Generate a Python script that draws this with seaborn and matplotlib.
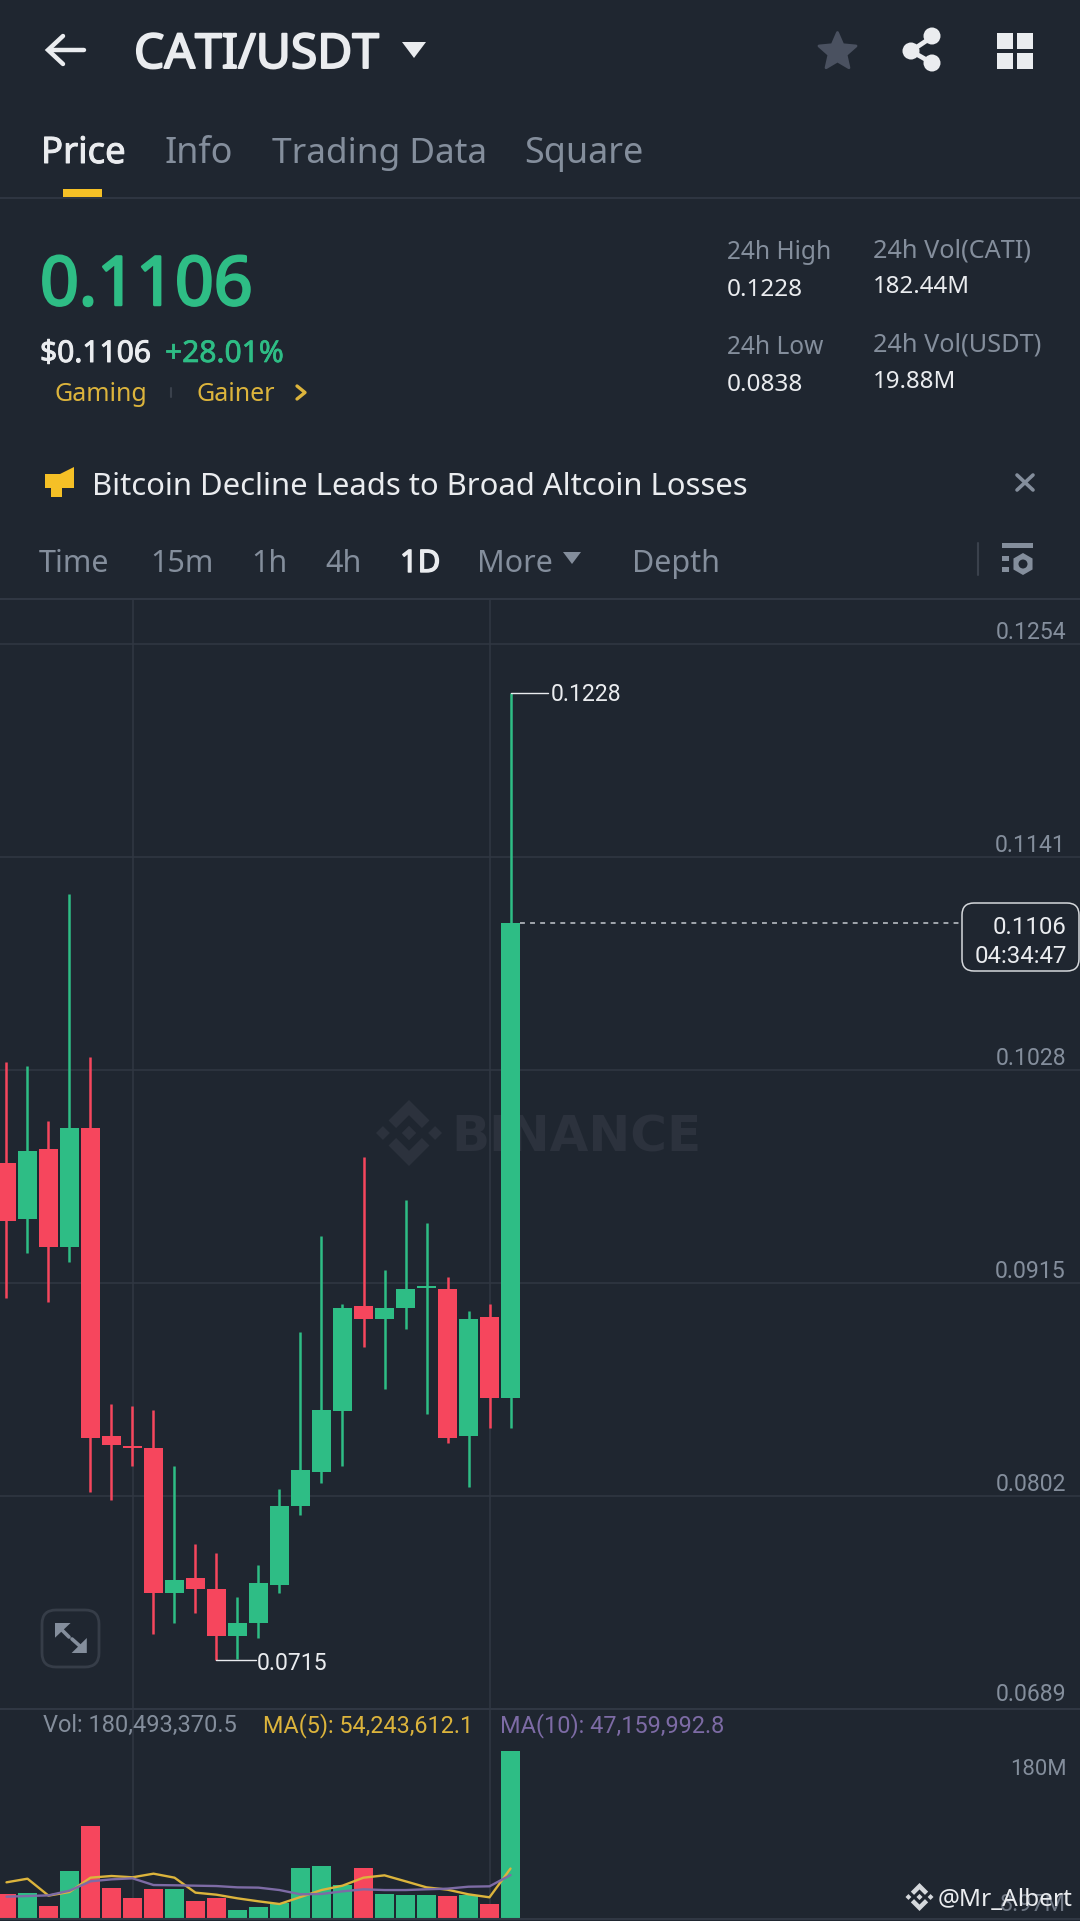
import numpy as np
import pandas as pd
import matplotlib
matplotlib.use('Agg')
import matplotlib.pyplot as plt
import matplotlib.patheffects as pe
from matplotlib.patches import Polygon, FancyBboxPatch, Rectangle, Circle
import seaborn as sns

# candles
opens = [0.09788, 0.09490, 0.09859, 0.09339, 0.09971, 0.08338, 0.08287, 0.08276, 0.07507, 0.07587, 0.07527, 0.07277, 0.07348,
         0.07548, 0.07967, 0.08147, 0.08469, 0.09028, 0.08959, 0.09019, 0.09122, 0.09118, 0.08340, 0.08970, 0.08540]
closes = [0.09481, 0.09850, 0.09339, 0.09971, 0.08329, 0.08289, 0.08276, 0.07507, 0.07576, 0.07527, 0.07277, 0.07346, 0.07557,
          0.07967, 0.08158, 0.08478, 0.09019, 0.08959, 0.09019, 0.09118, 0.09133, 0.08329, 0.08959, 0.08540, 0.11060]
highs = [0.10321, 0.10300, 0.10009, 0.11212, 0.10349, 0.08507, 0.08498, 0.08476, 0.08178, 0.07767, 0.07716, 0.07486, 0.07656,
         0.08057, 0.08889, 0.09399, 0.09039, 0.09819, 0.09219, 0.09590, 0.09468, 0.09180, 0.09000, 0.09039, 0.12280]
lows = [0.09069, 0.09311, 0.09049, 0.09260, 0.08040, 0.07999, 0.08178, 0.07288, 0.07348, 0.07398, 0.07150, 0.07157, 0.07268,
        0.07507, 0.07918, 0.08087, 0.08178, 0.08809, 0.08589, 0.08908, 0.08457, 0.08300, 0.08069, 0.08379, 0.08380]

# volume in millions
volumes = [26.5, 27.9, 13.6, 51.2, 100.3, 33.3, 22.6, 31.9, 32.6, 19.7, 22.9, 9.3, 12.9,
           16.8, 54.4, 56.9, 36.5, 54.8, 27.2, 25.4, 25.4, 24.7, 25.4, 16.1, 180.5]
ma5 = [39.4, 43.3, 25.1, 29.0, 44.4, 46.2, 44.8, 48.7, 44.4, 28.3, 26.1, 22.2, 19.0,
       16.1, 23.6, 31.1, 35.8, 44.4, 46.9, 40.5, 34.0, 31.5, 26.5, 23.3, 54.2]
ma10 = [24.0, 24.7, 25.4, 30.4, 40.5, 42.6, 43.7, 36.5, 36.2, 35.8, 35.4, 34.0, 33.7,
        31.1, 26.5, 26.9, 29.7, 31.9, 31.1, 31.1, 31.9, 32.6, 34.7, 35.1, 47.2]

price_ticks = [0.1254, 0.1141, 0.1028, 0.0915, 0.0802, 0.0689]
last_price = 0.1106
high_price = 0.1228
low_price = 0.0715
high_idx = 24
low_idx = 10

BG = '#1f2630'
GRID = '#303743'
GREEN = '#2ebd85'
RED = '#f6465d'
GREY = '#848e9c'
WHITE = '#eaecef'
SOFT_YELLOW = '#dcb43c'
PURPLE = '#7d6ba5'
MARK = '#2c323d'
PX = 0.72  # pixel size to points at dpi 100

sns.set_theme(style='dark')
plt.rcParams['font.family'] = ['Noto Sans', 'DejaVu Sans']

df = pd.DataFrame({'idx': range(len(opens)), 'open': opens, 'close': closes, 'high': highs, 'low': lows,
                   'vol': volumes, 'ma5': ma5, 'ma10': ma10})
df['up'] = df['close'] >= df['open']
df['dir'] = np.where(df['up'], 'up', 'down')

W, H = 1080, 1921
fig = plt.figure(figsize=(10.8, 19.21), dpi=100, facecolor=BG)
xlims = (-0.3095, 51.119)
pal = {'up': GREEN, 'down': RED}


def binance_logo(ax, cx, cy, r, color, zorder=1):
    # small diamonds making the exchange mark
    def diamond(x, y, s):
        ax.add_patch(Polygon([(x, y - s), (x + s, y), (x, y + s), (x - s, y)], closed=True, fc=color, ec='none', zorder=zorder))
    diamond(cx, cy, r * 0.22)
    diamond(cx - r * 0.79, cy, r * 0.21)
    diamond(cx + r * 0.79, cy, r * 0.21)
    for sgn in (-1, 1):
        pts = [(cx, cy + sgn * r), (cx + r * 0.62, cy + sgn * r * 0.38), (cx + r * 0.39, cy + sgn * r * 0.15),
               (cx, cy + sgn * r * 0.54), (cx - r * 0.39, cy + sgn * r * 0.15), (cx - r * 0.62, cy + sgn * r * 0.38)]
        ax.add_patch(Polygon(pts, closed=True, fc=color, ec='none', zorder=zorder))


# watermark goes under everything
ax_bg = fig.add_axes([0, 0, 1, 1], zorder=0, facecolor=BG)
ax_bg.set_xlim(0, W)
ax_bg.set_ylim(H, 0)
ax_bg.axis('off')
binance_logo(ax_bg, 409, 1133, 33, MARK)
ax_bg.text(451, 1151, 'BINANCE', color=MARK, fontsize=50 * PX, fontweight='bold', va='baseline', ha='left', family=['DejaVu Sans'])
for gx in (132.6, 489.7):
    ax_bg.plot([gx, gx], [599, 1919], color=GRID, lw=1.1)

# price panel
ax = fig.add_axes([0, 1 - 1709 / H, 1, (1709 - 599) / H], zorder=1)
ax.patch.set_alpha(0)
for p in price_ticks:
    ax.axhline(p, color=GRID, lw=1.1, zorder=0)
wick_colors = [pal[d] for d in df['dir']]
ax.vlines(df['idx'], df['low'], df['high'], colors=wick_colors, lw=1.8, zorder=2)
ax.bar(df['idx'], (df['close'] - df['open']).abs(), bottom=df[['open', 'close']].min(axis=1),
       width=0.886, color=wick_colors, linewidth=0, zorder=3)
ax.set_xlim(*xlims)
ax.set_ylim(0.0689, 0.12779)
ax.axis('off')

# last price dashed line and extremes
ax.plot([high_idx + 0.45, 45.5], [last_price, last_price], color='#c4c8ce', lw=1.1, dashes=(3.2, 3.4), zorder=2)
ax.plot([high_idx, high_idx + 1.8], [high_price, high_price], color=WHITE, lw=1.0, zorder=4)
ax.plot([low_idx, low_idx + 1.9], [low_price, low_price], color=WHITE, lw=1.0, zorder=4)
ax.annotate(f'{high_price:.4f}', xy=(high_idx + 1.9, high_price), xytext=(0, -1), textcoords='offset pixels',
            color=WHITE, fontsize=23 * PX, va='center', ha='left', family=['Roboto'])
ax.annotate(f'{low_price:.4f}', xy=(low_idx + 1.92, low_price), xytext=(0, -4), textcoords='offset pixels',
            color=WHITE, fontsize=23 * PX, va='center', ha='left', family=['Roboto'])
for p in price_ticks:
    off = 8 if p == 0.0689 else 5
    ax.annotate(f'{p:.4f}', xy=(1, p), xycoords=('axes fraction', 'data'), xytext=(-14, off), textcoords='offset pixels',
                color=GREY, fontsize=23 * PX, ha='right', va='baseline', family=['Roboto'], annotation_clip=False)

# volume panel
ax_v = fig.add_axes([0, 1 - 1919 / H, 1, (1919 - 1709) / H], zorder=1)
ax_v.patch.set_alpha(0)
sns.barplot(data=df, x='idx', y='vol', hue='dir', palette=pal, dodge=False, width=0.886, saturation=1,
            legend=False, linewidth=0, ax=ax_v, zorder=2)
sns.lineplot(data=df, x='idx', y='ma5', color='#dcb43c', lw=1.7, ax=ax_v, zorder=3)
sns.lineplot(data=df, x='idx', y='ma10', color=PURPLE, lw=1.7, ax=ax_v, zorder=4)
ax_v.set_xlim(*xlims)
ax_v.set_ylim(0, 225.6)
ax_v.axis('off')

# app chrome in pixel coordinates
ui = fig.add_axes([0, 0, 1, 1], zorder=5)
ui.patch.set_alpha(0)
ui.set_xlim(0, W)
ui.set_ylim(H, 0)
ui.axis('off')


def txt(x, y, s, color=GREY, px=26, stroke=0, ha='left', fam=None, z=6):
    t = ui.text(x, y, s, color=color, fontsize=px * PX, ha=ha, va='baseline',
                family=fam or ['Noto Sans', 'DejaVu Sans'], zorder=z)
    if stroke:
        # the installed family has no medium cut, thicken it a little
        t.set_path_effects([pe.withStroke(linewidth=stroke, foreground=color)])


# header
ui.plot([49, 84], [50, 50], color=WHITE, lw=3.2, solid_capstyle='round')
ui.plot([63, 48, 63], [36, 50, 64], color=WHITE, lw=3.2, solid_capstyle='round', solid_joinstyle='miter')
txt(134, 68, 'CATI/USDT', WHITE, 48, stroke=1.4)
ui.add_patch(Polygon([(402, 42), (426, 42), (414, 58)], closed=True, fc=WHITE, ec='none'))
star_a = np.deg2rad(np.arange(0, 360, 36) - 90)
star_r = np.where(np.arange(10) % 2 == 0, 19.5, 9)
ui.add_patch(Polygon(np.c_[837.5 + star_r * np.cos(star_a), 52 + star_r * np.sin(star_a)], closed=True,
                     fc='#4a5160', ec='#4a5160', lw=2, joinstyle='round'))
ui.plot([932, 911, 932], [37, 51, 63], color=WHITE, lw=3.4)
for cx, cy, r in [(932, 36, 8.5), (911, 51, 8.5), (932, 63, 8.5)]:
    ui.add_patch(Circle((cx, cy), r, fc=WHITE, ec='none'))
for cx in (997, 1017):
    for cy in (33, 53):
        ui.add_patch(Rectangle((cx, cy), 15.5, 15.5, fc=WHITE, ec='none'))

# tabs
txt(41, 163, 'Price', WHITE, 36.5, stroke=0.7)
txt(164, 163, 'Info', GREY, 36)
txt(272, 163, 'Trading Data', GREY, 35.2)
txt(524, 163, 'Square', GREY, 36)
ui.add_patch(Rectangle((63, 189), 39, 8, fc='#f5c026', ec='none'))
ui.plot([0, W], [197.5, 197.5], color=GRID, lw=1.3)

# price block
txt(40, 305, '0.1106', GREEN, 68, stroke=1.8)
txt(40, 362, '$0.1106', WHITE, 30, stroke=0.7)
txt(165, 362, '+28.01%', GREEN, 30, stroke=0.5)
txt(55, 401, 'Gaming', SOFT_YELLOW, 25)
ui.plot([171, 171], [388, 397], color='#3a414c', lw=1.5)
txt(197, 401, 'Gainer', SOFT_YELLOW, 25)
ui.plot([297, 305, 297], [386, 392.5, 399], color=SOFT_YELLOW, lw=2.4)
txt(727, 259, '24h High', GREY, 24.5)
txt(727, 296, '0.1228', WHITE, 24.3)
txt(873, 257, '24h Vol(CATI)', GREY, 25.3)
txt(873, 293, '182.44M', WHITE, 24)
txt(727, 354, '24h Low', GREY, 24.5)
txt(727, 391, '0.0838', WHITE, 24.3)
txt(873, 352, '24h Vol(USDT)', GREY, 25.3)
txt(873, 388, '19.88M', WHITE, 24)

# news line
ui.add_patch(Polygon([(45, 474), (60, 474), (74, 467), (74, 488), (62, 488), (62, 497), (51, 497), (51, 488), (45, 488)],
                     closed=True, fc='#f5c026', ec='none'))
txt(92, 495, 'Bitcoin Decline Leads to Broad Altcoin Losses', WHITE, 31)
ui.plot([1017, 1033], [475, 490], color=GREY, lw=2.6)
ui.plot([1033, 1017], [475, 490], color=GREY, lw=2.6)

# interval bar
txt(39, 572, 'Time', GREY, 30.5)
txt(150, 572, '15m', GREY, 30.5)
txt(251, 572, '1h', GREY, 30.5)
txt(325, 572, '4h', GREY, 30.5)
txt(400, 572, '1D', WHITE, 31, stroke=1.0)
txt(477, 572, 'More', GREY, 30.5)
ui.add_patch(Polygon([(563, 552), (581, 552), (572, 564)], closed=True, fc=GREY, ec='none'))
txt(632, 572, 'Depth', GREY, 30.5)
ui.plot([978, 978], [543, 575], color='#3a414c', lw=1.5)
ui.add_patch(Rectangle((1002, 543), 31, 5, fc=GREY, ec='none'))
ui.add_patch(Rectangle((1002, 556), 7, 5, fc=GREY, ec='none'))
ui.add_patch(Rectangle((1002, 567), 7, 5, fc=GREY, ec='none'))
hx_a = np.deg2rad(np.arange(0, 360, 60) + 30)
ui.add_patch(Polygon(np.c_[1023 + 11 * np.cos(hx_a), 564 + 11 * np.sin(hx_a)], closed=True, fc=GREY, ec='none'))
ui.add_patch(Circle((1023, 564), 4.5, fc=BG, ec='none'))
ui.plot([0, W], [599, 599], color=GRID, lw=1.5)
ui.plot([0, W], [1709, 1709], color=GRID, lw=1.5)
ui.plot([0, W], [1919, 1919], color=GRID, lw=1.5)

# price tag on the right
ui.add_patch(FancyBboxPatch((972, 913), 97, 48, boxstyle='round,pad=10,rounding_size=12', fc=BG, ec='#d5d8dc', lw=1.1, zorder=5))
txt(1067, 934, '0.1106', WHITE, 24, ha='right', fam=['Roboto'])
txt(1067, 963, '04:34:47', WHITE, 24, ha='right', fam=['Roboto'])

# expand button
ui.add_patch(FancyBboxPatch((54, 1622), 33, 33, boxstyle='round,pad=12,rounding_size=14', fc='none', ec='#363d48', lw=2.0))
ui.add_patch(Polygon([(55, 1623), (70.6, 1623), (55, 1637.7)], closed=True, fc=GREY, ec='none'))
ui.add_patch(Polygon([(86.8, 1653), (71.6, 1653), (86.8, 1638)], closed=True, fc=GREY, ec='none'))
ui.plot([61, 69], [1629, 1637], color=GREY, lw=2.6)
ui.plot([72, 81], [1639, 1647], color=GREY, lw=2.6)

# volume legend
txt(43, 1732, 'Vol: 180,493,370.5', GREY, 23.6, fam=['Roboto'])
txt(263, 1732, 'MA(5): 54,243,612.1', SOFT_YELLOW, 23.4, fam=['Roboto'])
txt(500, 1732, 'MA(10): 47,159,992.8', PURPLE, 23.5, fam=['Roboto'])
txt(1067, 1775, '180M', GREY, 22, ha='right', fam=['Roboto'])
txt(1066, 1911, '8.97M', '#6d7582', 23.5, ha='right', fam=['Roboto'])

# user watermark
binance_logo(ui, 919.5, 1897, 14, '#d5d8dc', zorder=6)
txt(938, 1906, '@Mr_Albert', WHITE, 24.4, z=7)

fig.savefig('out.png', dpi=100, facecolor=BG)
